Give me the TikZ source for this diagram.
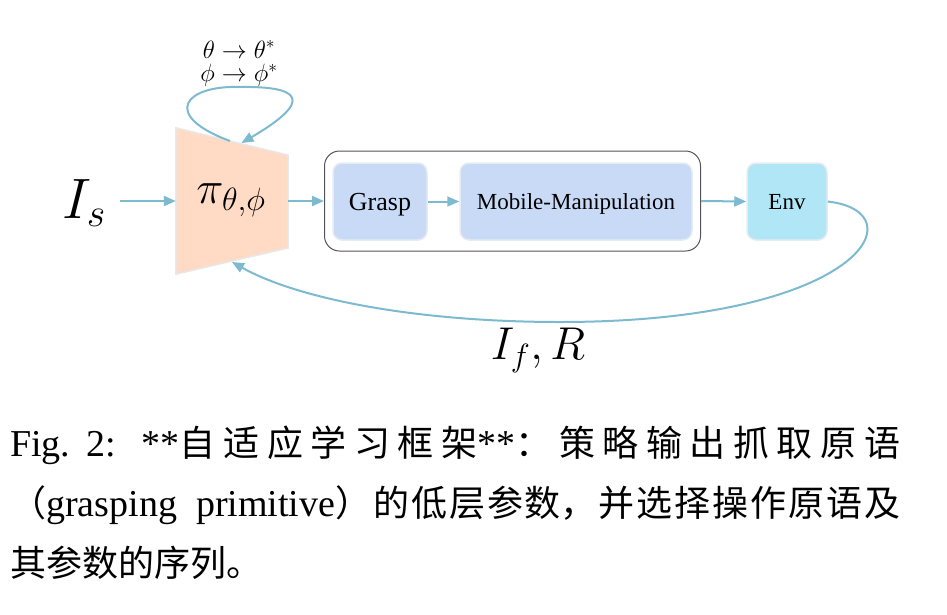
\RequirePackage{fix-cm}
\documentclass[tikz,border=0pt]{standalone}
\usepackage{fontspec}
\setmainfont{Liberation Serif}
\newfontfamily\cjk{Noto Sans CJK SC}
\newcommand{\zh}{\cjk\fontsize{36}{60}\selectfont}
\usetikzlibrary{arrows.meta}
\definecolor{arrowc}{HTML}{7DBAD0}
\definecolor{trapfill}{HTML}{FFDAC5}
\definecolor{trapedge}{HTML}{E8E8E8}
\definecolor{boxfill}{HTML}{C8DAF6}
\definecolor{boxedge}{HTML}{E6ECF4}
\definecolor{envfill}{HTML}{B0E6F6}
\definecolor{grpedge}{HTML}{555555}
\newcommand{\capline}[1]{\parbox[b]{890pt}{\parfillskip=0pt\spaceskip=9pt\relax\XeTeXlinebreaklocale "zh"\XeTeXlinebreakskip=0pt plus 2pt\relax #1}}
\begin{document}
\begin{tikzpicture}[x=1pt,y=-1pt,
  arr/.style={draw=arrowc, line width=2pt, -{Triangle[length=12pt,width=10pt]}},
  modbox/.style={rounded corners=9pt, fill=boxfill, draw=boxedge, line width=1.5pt,
    minimum height=77pt, inner sep=0pt, text depth=0pt, font=\fontsize{23}{26}\selectfont},
  grpbox/.style={rounded corners=15pt, draw=grpedge, line width=1pt, inner sep=0pt},
  mathlab/.style={inner sep=0pt},
  thetalab/.style={inner sep=0pt, anchor=base, font=\fontsize{25}{26}\selectfont},
  captext/.style={inner sep=0pt, anchor=base west, font=\fontsize{38}{60}\selectfont}
]
\useasboundingbox (0,0) rectangle (947,614);

% input label
\node[mathlab, anchor=base west, font=\fontsize{57}{60}\selectfont] (Is) at (62,218) {$I_s$};

% policy trapezoid
\node[minimum width=112pt, minimum height=146pt, inner sep=0pt] (pol) at (232,201) {};
\filldraw[fill=trapfill, draw=trapedge, line width=1.5pt]
  (pol.north west) -- (288,155) -- (288,248) -- (pol.south west) -- cycle;
\node[mathlab, font=\fontsize{46}{48}\selectfont] (pilab) at (231,200) {$\pi_{\theta,\phi}$};

% self loop
\coordinate (loopS) at (230,141);
\coordinate (loopE) at (241.5,143);
\draw[arr] (loopS) .. controls (160,115) and (185,85) .. (240,87)
  .. controls (300,86) and (315,100) .. (loopE);
\node[thetalab] (thlab) at (239,58) {$\theta\rightarrow\theta^{*}$};
\node[thetalab] (philab) at (239,81.5) {$\phi\rightarrow\phi^{*}$};

% group box and modules
\node[grpbox, minimum width=376pt, minimum height=100pt] (grp) at (512.5,201) {};
\node[modbox, minimum width=94pt, font=\fontsize{26}{28}\selectfont] (grasp) at (380,201.5) {Grasp};
\node[modbox, minimum width=232pt] (mm) at (576,201.5) {Mobile-Manipulation};
\node[modbox, fill=envfill, minimum width=80pt] (env) at (787,201.5) {Env};

% arrows
\draw[arr] ([xshift=14pt]Is.east |- pol.west) -- (pol.west);
\draw[arr] (pol.east) -- (grp.west);
\draw[arr] (grasp.east) -- (mm.west);
\draw[arr] (grp.east) -- (env.west);

% feedback
\coordinate (fbend) at (232,262);
\draw[arr] (env.east) .. controls (920,212) and (860,322) .. (560,322)
  .. controls (420,322) and (300,300) .. (fbend);
\node[mathlab, font=\fontsize{46}{48}\selectfont] (fblab) at (538,350) {$I_f,R$};

% caption
\node[captext] (cap1) at (10,456.7) {\capline{Fig.\hspace{16pt}2:\hspace{26pt}**{\zh 自适应学习框架}**{\zh ：策略输出抓取原语}}};
\node[captext] (cap2) at (10,516) {\capline{{\zh （}grasping\hspace{19pt}primitive{\zh ）的低层参数，并选择操作原语及}}};
\node[captext] (cap3) at (10,576) {{\zh 其参数的序列。}};
\end{tikzpicture}
\end{document}
